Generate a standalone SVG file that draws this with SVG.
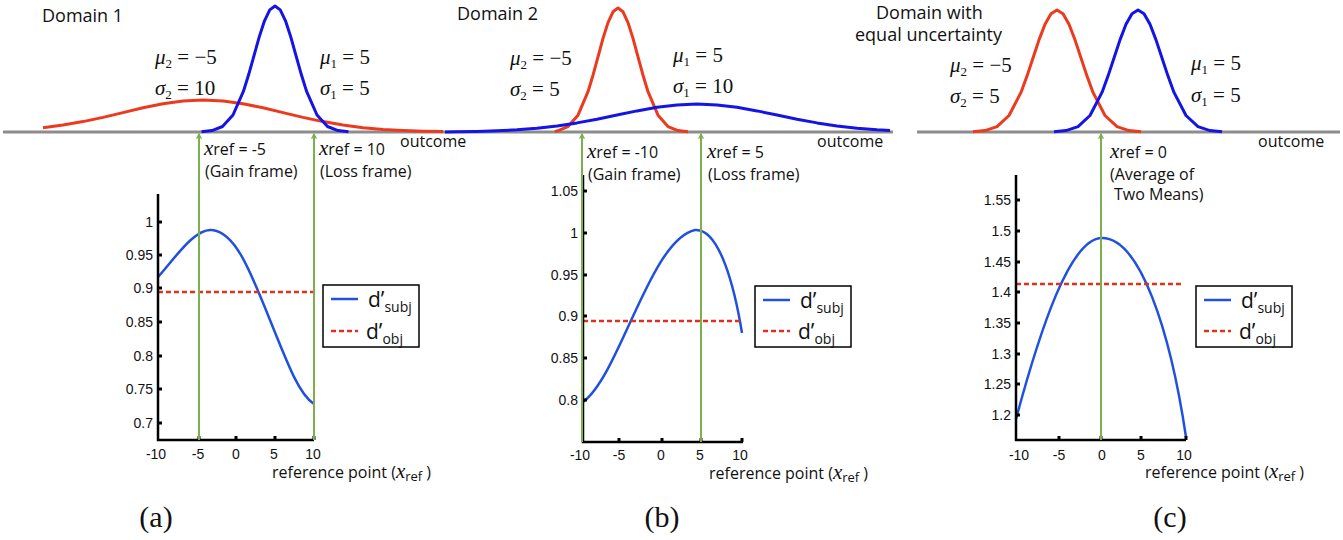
<svg xmlns="http://www.w3.org/2000/svg" width="1343" height="540" viewBox="0 0 1343 540">
<style>
.bg{fill:#fff}
.base{stroke:#8c8c8c;stroke-width:3;fill:none}
.gb{stroke:#1414e6;stroke-width:3;fill:none;stroke-linejoin:round}
.gr{stroke:#ec3a1e;stroke-width:3;fill:none;stroke-linejoin:round}
.arr{stroke:#7bb04c;stroke-width:2;fill:none;marker-end:url(#ah)}
.ax{stroke:#000;stroke-width:2.5;fill:none}
.tk{stroke:#000;stroke-width:3}
.dsub{stroke:#2050e0;stroke-width:2.5;fill:none}
.dobj{stroke:#e0301e;stroke-width:2.5;fill:none;stroke-dasharray:5,3}
.leg{fill:#fff;stroke:#000;stroke-width:1.5}
.num{font-family:"Liberation Sans",Arial,sans-serif;font-size:14px;fill:#111}
.nr{text-anchor:end}
.nm{text-anchor:middle}
.lb{font-family:"Open Sans","DejaVu Sans",sans-serif;font-size:16px;fill:#111}
.ttl{font-family:"Open Sans","DejaVu Sans",sans-serif;font-size:18px;fill:#111}
.mth{font-family:"Liberation Serif","Times New Roman",serif;font-size:21px;fill:#111}
.it{font-style:italic}
.sb{font-size:13px}
.cap{font-family:"Liberation Serif","Times New Roman",serif;font-size:30px;fill:#111;text-anchor:middle}
.lg{font-family:"Open Sans","DejaVu Sans",sans-serif;font-size:21px;fill:#111}
.lgs{font-size:14px}
</style>
<defs>
<marker id="ah" viewBox="0 0 10 10" refX="9" refY="5" markerWidth="6" markerHeight="6" orient="auto" markerUnits="userSpaceOnUse">
<path d="M1,1 L9,5 L1,9" fill="none" stroke="#7bb04c" stroke-width="2"/>
</marker>
</defs>
<rect class="bg" width="1343" height="540"/>
<g id="baseline">
<line class="base" x1="3" y1="132" x2="893" y2="132"/>
<line class="base" x1="917" y1="132" x2="1340" y2="132"/>
</g>
<g id="panel-a">
<text class="ttl" x="42" y="22">Domain 1</text>
<polyline class="gr" points="43,127.7 63,125.1 83,121.6 103,117.4 123,112.6 143,107.8 163,103.8 183,101 203,100 223,101 243,103.8 263,107.8 283,112.6 303,117.4 323,121.6 343,125.1 363,127.7 383,129.5 403,130.6 423,131.3 443,131.6"/>
<polyline class="gb" points="201.5,131.7 212,130.6 222.5,126.5 233,115 243.5,91.1 248.75,74.3 254,55.6 259.25,36.9 264.5,20.8 269.75,9.9 275,6 280.25,9.9 285.5,20.8 290.75,36.9 296,55.6 301.25,74.3 306.5,91.1 317,115 327.5,126.5 338,130.6 348.5,131.7"/>
<text class="mth" x="155" y="64"><tspan class="it">μ</tspan><tspan class="sb" dy="4">2</tspan><tspan dy="-4"> = −5</tspan></text>
<text class="mth" x="155" y="95"><tspan class="it">σ</tspan><tspan class="sb" dy="4">2</tspan><tspan dy="-4"> = 10</tspan></text>
<text class="mth" x="320" y="64"><tspan class="it">μ</tspan><tspan class="sb" dy="4">1</tspan><tspan dy="-4"> = 5</tspan></text>
<text class="mth" x="320" y="95"><tspan class="it">σ</tspan><tspan class="sb" dy="4">1</tspan><tspan dy="-4"> = 5</tspan></text>
<text class="lb" x="400" y="147">outcome</text>
<text class="lb" x="204" y="155"><tspan class="mth it" font-size="22">x</tspan>ref = -5</text>
<text class="lb" x="205" y="177">(Gain frame)</text>
<text class="lb" x="319" y="155"><tspan class="mth it" font-size="22">x</tspan>ref = 10</text>
<text class="lb" x="320" y="177">(Loss frame)</text>
<path class="dsub" d="M158,277 C175,258 195,228 212,230 C235,232 250,270 270,320 C290,370 300,395 314,404"/>
<line class="dobj" x1="158" y1="292" x2="314" y2="292"/>
<path class="ax" d="M158,194 V440 H314"/>
<g class="tk"><line x1="158" y1="222" x2="162" y2="222"/><line x1="158" y1="255" x2="162" y2="255"/><line x1="158" y1="288" x2="162" y2="288"/><line x1="158" y1="322" x2="162" y2="322"/><line x1="158" y1="356" x2="162" y2="356"/><line x1="158" y1="389" x2="162" y2="389"/><line x1="158" y1="423" x2="162" y2="423"/><line x1="199" y1="440" x2="199" y2="436"/><line x1="236" y1="440" x2="236" y2="436"/><line x1="275" y1="440" x2="275" y2="436"/><line x1="314" y1="440" x2="314" y2="436"/></g>
<g class="num nr"><text x="153" y="227">1</text><text x="153" y="260">0.95</text><text x="153" y="293">0.9</text><text x="153" y="327">0.85</text><text x="153" y="361">0.8</text><text x="153" y="394">0.75</text><text x="153" y="428">0.7</text></g>
<g class="num nm" font-size="15"><text x="156" y="459">-10</text><text x="198" y="459">-5</text><text x="236" y="459">0</text><text x="274" y="459">5</text><text x="313" y="459">10</text></g>
<line class="arr" x1="199" y1="440" x2="199" y2="134"/>
<line class="arr" x1="314" y1="440" x2="314" y2="134"/>
<rect class="leg" x="323" y="285" width="96" height="62"/>
<line class="dsub" x1="331" y1="299" x2="358" y2="299"/>
<line class="dobj" x1="331" y1="331" x2="358" y2="331"/>
<text class="lg" x="368" y="307">d’<tspan class="lgs" dy="5">subj</tspan></text>
<text class="lg" x="366" y="339">d’<tspan class="lgs" dy="5">obj</tspan></text>
<text class="lb" x="272" y="478" font-size="17">reference point (<tspan class="mth it" font-size="21">x</tspan><tspan font-size="13" dy="3">ref</tspan><tspan dy="-3"> )</tspan></text>
<text class="cap" x="156" y="527">(a)</text>
</g>
<g id="panel-b">
<text class="ttl" x="457" y="20">Domain 2</text>
<polyline class="gr" points="555,131.7 558,130.6 568,126.6 578,115.2 588,91.7 593,75.2 598,56.8 603,38.4 608,22.6 613,11.8 618,8 623,11.8 628,22.6 633,38.4 638,56.8 643,75.2 648,91.7 658,115.2 668,126.6 678,130.6 688,131.7"/>
<polyline class="gb" points="445,131.9 457,131.7 477,131.4 497,130.8 517,129.8 537,128.2 557,125.9 577,122.9 597,119.2 617,115 637,110.9 657,107.3 677,104.9 697,104 717,104.9 737,107.3 757,110.9 777,115 797,119.2 817,122.9 837,125.9 857,128.2 877,129.8 890,130.5"/>
<text class="mth" x="510" y="65"><tspan class="it">μ</tspan><tspan class="sb" dy="4">2</tspan><tspan dy="-4"> = −5</tspan></text>
<text class="mth" x="510" y="96"><tspan class="it">σ</tspan><tspan class="sb" dy="4">2</tspan><tspan dy="-4"> = 5</tspan></text>
<text class="mth" x="673" y="62"><tspan class="it">μ</tspan><tspan class="sb" dy="4">1</tspan><tspan dy="-4"> = 5</tspan></text>
<text class="mth" x="673" y="93"><tspan class="it">σ</tspan><tspan class="sb" dy="4">1</tspan><tspan dy="-4"> = 10</tspan></text>
<text class="lb" x="817" y="147">outcome</text>
<text class="lb" x="587" y="158"><tspan class="mth it" font-size="22">x</tspan>ref = -10</text>
<text class="lb" x="588" y="180">(Gain frame)</text>
<text class="lb" x="707" y="158"><tspan class="mth it" font-size="22">x</tspan>ref = 5</text>
<text class="lb" x="708" y="180">(Loss frame)</text>
<path class="dsub" d="M583,402 C620,375 650,240 695,230 C720,228 735,290 742,333"/>
<line class="dobj" x1="583" y1="321" x2="742" y2="321"/>
<path class="ax" d="M583,175 V442 H743"/>
<g class="tk"><line x1="583" y1="191" x2="587" y2="191"/><line x1="583" y1="233" x2="587" y2="233"/><line x1="583" y1="275" x2="587" y2="275"/><line x1="583" y1="316" x2="587" y2="316"/><line x1="583" y1="358" x2="587" y2="358"/><line x1="583" y1="400" x2="587" y2="400"/><line x1="619" y1="442" x2="619" y2="438"/><line x1="662" y1="442" x2="662" y2="438"/><line x1="701" y1="442" x2="701" y2="438"/><line x1="742" y1="442" x2="742" y2="438"/></g>
<g class="num nr"><text x="578" y="196">1.05</text><text x="578" y="238">1</text><text x="578" y="280">0.95</text><text x="578" y="321">0.9</text><text x="578" y="363">0.85</text><text x="578" y="405">0.8</text></g>
<g class="num nm" font-size="15"><text x="580" y="460">-10</text><text x="619" y="460">-5</text><text x="661" y="460">0</text><text x="700" y="460">5</text><text x="740" y="460">10</text></g>
<line class="arr" x1="582" y1="442" x2="582" y2="134" stroke="#4c7a2c"/>
<line class="arr" x1="701" y1="442" x2="701" y2="134"/>
<rect class="leg" x="755" y="286" width="96" height="61"/>
<line class="dsub" x1="763" y1="300" x2="790" y2="300"/>
<line class="dobj" x1="763" y1="331" x2="790" y2="331"/>
<text class="lg" x="800" y="308">d’<tspan class="lgs" dy="5">subj</tspan></text>
<text class="lg" x="798" y="339">d’<tspan class="lgs" dy="5">obj</tspan></text>
<text class="lb" x="709" y="479" font-size="17">reference point (<tspan class="mth it" font-size="21">x</tspan><tspan font-size="13" dy="3">ref</tspan><tspan dy="-3"> )</tspan></text>
<text class="cap" x="662" y="527">(b)</text>
</g>
<g id="panel-c">
<text class="ttl" x="876" y="19" font-size="17">Domain with</text>
<text class="ttl" x="855" y="41" font-size="17">equal uncertainty</text>
<polyline class="gr" points="973,131.7 985,130.6 997,126.6 1009,115.5 1021,92.4 1027,76.1 1033,58 1039,39.9 1045,24.3 1051,13.8 1057,10 1063,13.8 1069,24.3 1075,39.9 1081,58 1087,76.1 1093,92.4 1105,115.5 1117,126.6 1129,130.6 1141,131.7"/>
<polyline class="gb" points="1054,131.7 1066,130.6 1078,126.6 1090,115.5 1102,92.4 1108,76.1 1114,58 1120,39.9 1126,24.3 1132,13.8 1138,10 1144,13.8 1150,24.3 1156,39.9 1162,58 1168,76.1 1174,92.4 1186,115.5 1198,126.6 1210,130.6 1222,131.7"/>
<text class="mth" x="950" y="72"><tspan class="it">μ</tspan><tspan class="sb" dy="4">2</tspan><tspan dy="-4"> = −5</tspan></text>
<text class="mth" x="950" y="103"><tspan class="it">σ</tspan><tspan class="sb" dy="4">2</tspan><tspan dy="-4"> = 5</tspan></text>
<text class="mth" x="1191" y="70"><tspan class="it">μ</tspan><tspan class="sb" dy="4">1</tspan><tspan dy="-4"> = 5</tspan></text>
<text class="mth" x="1191" y="102"><tspan class="it">σ</tspan><tspan class="sb" dy="4">1</tspan><tspan dy="-4"> = 5</tspan></text>
<text class="lb" x="1258" y="147">outcome</text>
<text class="lb" x="1110" y="158"><tspan class="mth it" font-size="22">x</tspan>ref = 0</text>
<text class="lb" x="1110" y="180">(Average of</text>
<text class="lb" x="1114" y="200">Two Means)</text>
<path class="dsub" d="M1016,419 C1040,330 1070,238 1102,238 C1140,238 1170,330 1186,437"/>
<line class="dobj" x1="1016" y1="284" x2="1183" y2="284"/>
<path class="ax" d="M1016,175 V440 H1186"/>
<g class="tk"><line x1="1016" y1="200" x2="1020" y2="200"/><line x1="1016" y1="231" x2="1020" y2="231"/><line x1="1016" y1="262" x2="1020" y2="262"/><line x1="1016" y1="292" x2="1020" y2="292"/><line x1="1016" y1="323" x2="1020" y2="323"/><line x1="1016" y1="354" x2="1020" y2="354"/><line x1="1016" y1="384" x2="1020" y2="384"/><line x1="1016" y1="415" x2="1020" y2="415"/><line x1="1059" y1="440" x2="1059" y2="436"/><line x1="1101" y1="440" x2="1101" y2="436"/><line x1="1141" y1="440" x2="1141" y2="436"/><line x1="1186" y1="440" x2="1186" y2="436"/></g>
<g class="num nr"><text x="1011" y="205">1.55</text><text x="1011" y="236">1.5</text><text x="1011" y="267">1.45</text><text x="1011" y="297">1.4</text><text x="1011" y="328">1.35</text><text x="1011" y="359">1.3</text><text x="1011" y="389">1.25</text><text x="1011" y="420">1.2</text></g>
<g class="num nm" font-size="15"><text x="1019" y="460">-10</text><text x="1059" y="460">-5</text><text x="1102" y="460">0</text><text x="1141" y="460">5</text><text x="1184" y="460">10</text></g>
<line class="arr" x1="1101" y1="440" x2="1101" y2="134"/>
<rect class="leg" x="1196" y="286" width="96" height="61"/>
<line class="dsub" x1="1204" y1="300" x2="1231" y2="300"/>
<line class="dobj" x1="1204" y1="331" x2="1231" y2="331"/>
<text class="lg" x="1241" y="308">d’<tspan class="lgs" dy="5">subj</tspan></text>
<text class="lg" x="1239" y="339">d’<tspan class="lgs" dy="5">obj</tspan></text>
<text class="lb" x="1145" y="478" font-size="17">reference point (<tspan class="mth it" font-size="21">x</tspan><tspan font-size="13" dy="3">ref</tspan><tspan dy="-3"> )</tspan></text>
<text class="cap" x="1170" y="527">(c)</text>
</g>
</svg>
